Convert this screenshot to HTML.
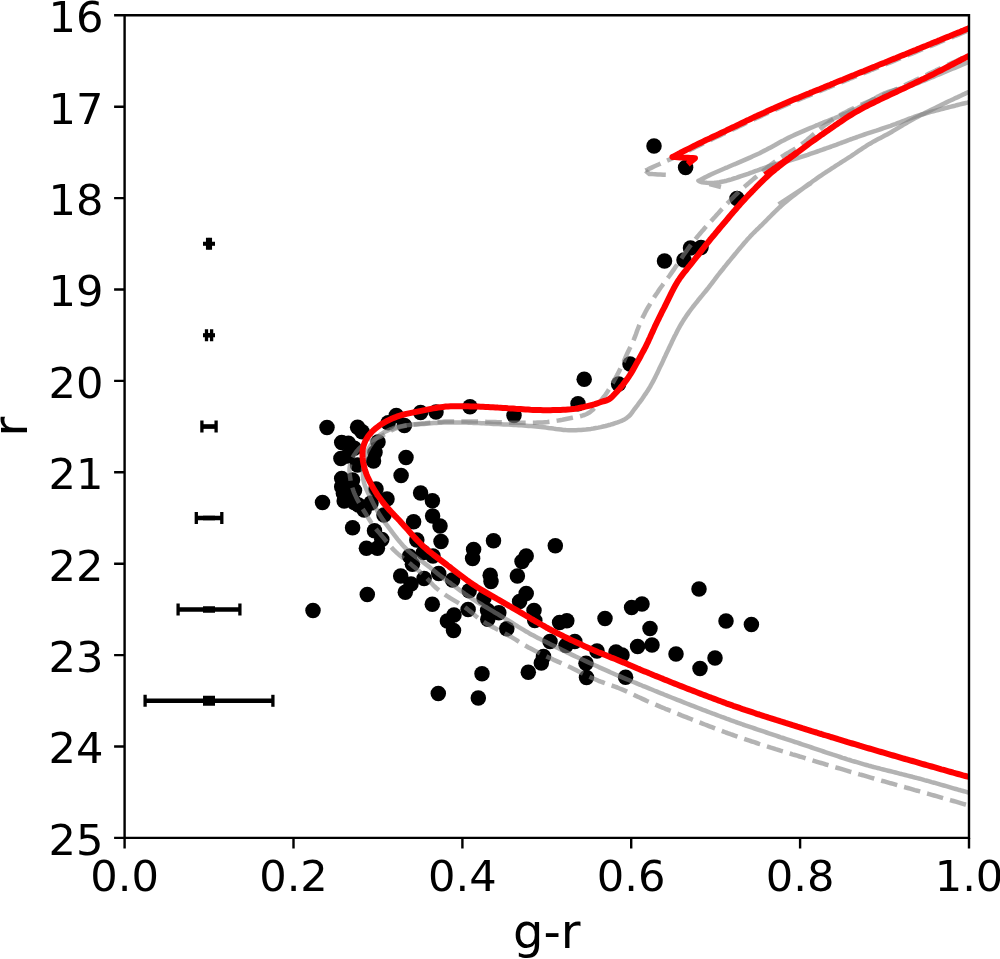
<!DOCTYPE html>
<html><head><meta charset="utf-8"><title>CMD</title>
<style>html,body{margin:0;padding:0;background:#fff;width:1000px;height:959px;overflow:hidden}svg{display:block}</style>
</head><body>
<svg width="1000" height="959" viewBox="0 0 1000 959">
<rect width="1000" height="959" fill="#fff"/>
<defs><clipPath id="ax"><rect x="124.6" y="15.3" width="844.4" height="822.6"/></clipPath></defs>
<g clip-path="url(#ax)">
<path d="M207.6 243.8H210.4" stroke="#000" stroke-width="4.5"/>
<path d="M209 243.5V244.1" stroke="#000" stroke-width="4.5"/>
<path d="M207.6 237.8v12" stroke="#000" stroke-width="3.3"/>
<path d="M210.4 237.8v12" stroke="#000" stroke-width="3.3"/>
<path d="M203 243.5h12" stroke="#000" stroke-width="3.3"/>
<path d="M203 244.1h12" stroke="#000" stroke-width="3.3"/>
<path d="M206.5 335.2H211.6" stroke="#000" stroke-width="4.5"/>
<path d="M209 334.9V335.5" stroke="#000" stroke-width="4.5"/>
<path d="M206.5 329.2v12" stroke="#000" stroke-width="3.3"/>
<path d="M211.6 329.2v12" stroke="#000" stroke-width="3.3"/>
<path d="M203 334.9h12" stroke="#000" stroke-width="3.3"/>
<path d="M203 335.5h12" stroke="#000" stroke-width="3.3"/>
<path d="M201.9 426.6H216.1" stroke="#000" stroke-width="4.5"/>
<path d="M209 426.3V426.9" stroke="#000" stroke-width="4.5"/>
<path d="M201.9 420.6v12" stroke="#000" stroke-width="3.3"/>
<path d="M216.1 420.6v12" stroke="#000" stroke-width="3.3"/>
<path d="M203 426.3h12" stroke="#000" stroke-width="3.3"/>
<path d="M203 426.9h12" stroke="#000" stroke-width="3.3"/>
<path d="M196.3 518H221.8" stroke="#000" stroke-width="4.5"/>
<path d="M209 517.5V518.5" stroke="#000" stroke-width="4.5"/>
<path d="M196.3 512v12" stroke="#000" stroke-width="3.3"/>
<path d="M221.8 512v12" stroke="#000" stroke-width="3.3"/>
<path d="M203 517.5h12" stroke="#000" stroke-width="3.3"/>
<path d="M203 518.5h12" stroke="#000" stroke-width="3.3"/>
<path d="M178.1 609.4H239.9" stroke="#000" stroke-width="4.5"/>
<path d="M209 607.8V611" stroke="#000" stroke-width="4.5"/>
<path d="M178.1 603.4v12" stroke="#000" stroke-width="3.3"/>
<path d="M239.9 603.4v12" stroke="#000" stroke-width="3.3"/>
<path d="M203 607.8h12" stroke="#000" stroke-width="3.3"/>
<path d="M203 611h12" stroke="#000" stroke-width="3.3"/>
<path d="M145.1 700.8H272.9" stroke="#000" stroke-width="4.5"/>
<path d="M209 697.4V704.2" stroke="#000" stroke-width="4.5"/>
<path d="M145.1 694.8v12" stroke="#000" stroke-width="3.3"/>
<path d="M272.9 694.8v12" stroke="#000" stroke-width="3.3"/>
<path d="M203 697.4h12" stroke="#000" stroke-width="3.3"/>
<path d="M203 704.2h12" stroke="#000" stroke-width="3.3"/>
<g fill="#000">
<circle cx="654" cy="146" r="7.75"/>
<circle cx="685.6" cy="167.5" r="7.75"/>
<circle cx="737" cy="198.4" r="7.75"/>
<circle cx="664.5" cy="261" r="7.75"/>
<circle cx="684" cy="260" r="7.75"/>
<circle cx="690.5" cy="248" r="7.75"/>
<circle cx="701" cy="247.5" r="7.75"/>
<circle cx="584.2" cy="379.2" r="7.75"/>
<circle cx="578" cy="403.8" r="7.75"/>
<circle cx="618.6" cy="384.1" r="7.75"/>
<circle cx="630" cy="364" r="7.75"/>
<circle cx="470" cy="406.8" r="7.75"/>
<circle cx="514" cy="415.6" r="7.75"/>
<circle cx="420.6" cy="412.6" r="7.75"/>
<circle cx="436" cy="412" r="7.75"/>
<circle cx="396.3" cy="415.5" r="7.75"/>
<circle cx="388.2" cy="422.7" r="7.75"/>
<circle cx="404.4" cy="425.4" r="7.75"/>
<circle cx="327" cy="427.5" r="7.75"/>
<circle cx="357.6" cy="427.2" r="7.75"/>
<circle cx="362.1" cy="431.7" r="7.75"/>
<circle cx="341.7" cy="442.5" r="7.75"/>
<circle cx="348.4" cy="443.3" r="7.75"/>
<circle cx="354.2" cy="448.3" r="7.75"/>
<circle cx="340.9" cy="458.4" r="7.75"/>
<circle cx="347.5" cy="455.9" r="7.75"/>
<circle cx="357.5" cy="465" r="7.75"/>
<circle cx="375" cy="452.5" r="7.75"/>
<circle cx="373.5" cy="461" r="7.75"/>
<circle cx="378" cy="442" r="7.75"/>
<circle cx="354.5" cy="490.5" r="7.75"/>
<circle cx="371" cy="503" r="7.75"/>
<circle cx="406" cy="457.6" r="7.75"/>
<circle cx="401.1" cy="475.4" r="7.75"/>
<circle cx="341.7" cy="478.4" r="7.75"/>
<circle cx="352.5" cy="480" r="7.75"/>
<circle cx="341.7" cy="486.7" r="7.75"/>
<circle cx="343.4" cy="493.4" r="7.75"/>
<circle cx="344.2" cy="500.9" r="7.75"/>
<circle cx="354.2" cy="502.6" r="7.75"/>
<circle cx="358.4" cy="505.1" r="7.75"/>
<circle cx="322.5" cy="502.5" r="7.75"/>
<circle cx="376" cy="489" r="7.75"/>
<circle cx="387" cy="499" r="7.75"/>
<circle cx="384" cy="515" r="7.75"/>
<circle cx="364.2" cy="510" r="7.75"/>
<circle cx="420.6" cy="493.1" r="7.75"/>
<circle cx="432.4" cy="500.7" r="7.75"/>
<circle cx="432.6" cy="516" r="7.75"/>
<circle cx="440" cy="526" r="7.75"/>
<circle cx="413.6" cy="521.8" r="7.75"/>
<circle cx="352.6" cy="527.7" r="7.75"/>
<circle cx="374.5" cy="530.7" r="7.75"/>
<circle cx="381.8" cy="539.4" r="7.75"/>
<circle cx="366.4" cy="548.2" r="7.75"/>
<circle cx="377.4" cy="548.2" r="7.75"/>
<circle cx="416.8" cy="540.1" r="7.75"/>
<circle cx="441" cy="541.4" r="7.75"/>
<circle cx="409.5" cy="556.2" r="7.75"/>
<circle cx="412.4" cy="564.2" r="7.75"/>
<circle cx="423.5" cy="552.5" r="7.75"/>
<circle cx="433" cy="556" r="7.75"/>
<circle cx="424.1" cy="578.5" r="7.75"/>
<circle cx="438.7" cy="573.5" r="7.75"/>
<circle cx="400.7" cy="575.9" r="7.75"/>
<circle cx="411" cy="583.9" r="7.75"/>
<circle cx="405.3" cy="592.3" r="7.75"/>
<circle cx="367.3" cy="594.5" r="7.75"/>
<circle cx="313" cy="610.4" r="7.75"/>
<circle cx="432.3" cy="604.2" r="7.75"/>
<circle cx="493.5" cy="540.8" r="7.75"/>
<circle cx="473.6" cy="549.6" r="7.75"/>
<circle cx="472.6" cy="558.4" r="7.75"/>
<circle cx="526.2" cy="556" r="7.75"/>
<circle cx="522" cy="561.6" r="7.75"/>
<circle cx="555.3" cy="545.7" r="7.75"/>
<circle cx="517.4" cy="576" r="7.75"/>
<circle cx="490.2" cy="575.2" r="7.75"/>
<circle cx="491" cy="581.6" r="7.75"/>
<circle cx="452.6" cy="580" r="7.75"/>
<circle cx="469.2" cy="590.8" r="7.75"/>
<circle cx="526.2" cy="593.6" r="7.75"/>
<circle cx="454" cy="615" r="7.75"/>
<circle cx="447.4" cy="621" r="7.75"/>
<circle cx="453.5" cy="630.6" r="7.75"/>
<circle cx="468.1" cy="609.5" r="7.75"/>
<circle cx="487.8" cy="619.3" r="7.75"/>
<circle cx="487.6" cy="610.4" r="7.75"/>
<circle cx="498.8" cy="612.8" r="7.75"/>
<circle cx="506.8" cy="628.8" r="7.75"/>
<circle cx="519.6" cy="601.6" r="7.75"/>
<circle cx="534" cy="610.4" r="7.75"/>
<circle cx="534.8" cy="620.4" r="7.75"/>
<circle cx="559.6" cy="622.4" r="7.75"/>
<circle cx="566.8" cy="620.8" r="7.75"/>
<circle cx="550" cy="641.6" r="7.75"/>
<circle cx="566" cy="645.6" r="7.75"/>
<circle cx="574.8" cy="641.6" r="7.75"/>
<circle cx="543.5" cy="656.5" r="7.75"/>
<circle cx="541.3" cy="663" r="7.75"/>
<circle cx="528.3" cy="672.2" r="7.75"/>
<circle cx="586" cy="663.2" r="7.75"/>
<circle cx="586.5" cy="677.6" r="7.75"/>
<circle cx="482" cy="673.8" r="7.75"/>
<circle cx="438.3" cy="693.6" r="7.75"/>
<circle cx="478.3" cy="698.1" r="7.75"/>
<circle cx="484" cy="598" r="7.75"/>
<circle cx="699" cy="589" r="7.75"/>
<circle cx="642" cy="604" r="7.75"/>
<circle cx="631.6" cy="607.6" r="7.75"/>
<circle cx="605" cy="618.6" r="7.75"/>
<circle cx="726" cy="621" r="7.75"/>
<circle cx="751.4" cy="624.4" r="7.75"/>
<circle cx="650" cy="628.6" r="7.75"/>
<circle cx="637.6" cy="646.4" r="7.75"/>
<circle cx="652" cy="645" r="7.75"/>
<circle cx="676" cy="654" r="7.75"/>
<circle cx="715" cy="658" r="7.75"/>
<circle cx="700" cy="668.4" r="7.75"/>
<circle cx="597" cy="651" r="7.75"/>
<circle cx="616" cy="652" r="7.75"/>
<circle cx="622" cy="655" r="7.75"/>
<circle cx="625.6" cy="677.2" r="7.75"/>
</g>
<path d="M975 794.5 972.6 793.8 970.2 793.1 967.8 792.4 965.4 791.7 963 791 960.6 790.3 958.2 789.7 955.8 789 953.4 788.3 951 787.6 948.6 786.9 946.2 786.2 943.8 785.5 941.4 784.8 939 784.1 936.5 783.4 934.1 782.7 931.7 782.1 929.3 781.4 926.9 780.7 924.5 780.1 922.1 779.4 919.7 778.7 917.3 778.1 914.8 777.5 912.4 776.8 910 776.2 907.6 775.6 905.2 775 902.7 774.4 900.3 773.8 897.9 773.1 895.5 772.5 893 771.9 890.6 771.3 888.2 770.7 885.8 770.1 883.3 769.5 880.9 768.9 878.5 768.2 876.1 767.6 873.6 767 871.2 766.3 868.8 765.7 866.4 765 864 764.3 861.6 763.6 859.2 762.9 856.8 762.2 854.4 761.5 852 760.8 849.6 760 847.2 759.3 844.9 758.5 842.5 757.8 840.1 757 837.7 756.2 835.3 755.4 833 754.7 830.6 753.9 828.2 753.1 825.8 752.3 823.5 751.5 821.1 750.7 818.7 749.9 816.4 749.1 814 748.3 811.6 747.5 809.3 746.7 806.9 745.9 804.5 745.1 802.1 744.3 799.8 743.5 797.4 742.7 795 742 792.6 741.2 790.3 740.4 787.9 739.6 785.5 738.8 783.1 738 780.8 737.3 778.4 736.5 776 735.7 773.6 734.9 771.3 734.1 768.9 733.3 766.5 732.5 764.2 731.7 761.8 730.9 759.4 730.1 757 729.3 754.7 728.5 752.3 727.7 749.9 726.9 747.6 726.1 745.2 725.3 742.8 724.5 740.5 723.6 738.1 722.8 735.8 722 733.4 721.1 731.1 720.3 728.7 719.4 726.4 718.6 724 717.7 721.7 716.9 719.3 716 717 715.1 714.6 714.2 712.3 713.4 710 712.5 707.6 711.6 705.3 710.7 702.9 709.8 700.6 708.9 698.3 708 695.9 707.1 693.6 706.2 691.3 705.3 688.9 704.4 686.6 703.5 684.3 702.6 682 701.7 679.6 700.7 677.3 699.8 675 698.9 672.7 698 670.3 697 668 696.1 665.7 695.2 663.4 694.2 661.1 693.3 658.7 692.4 656.4 691.4 654.1 690.5 651.8 689.5 649.5 688.6 647.2 687.7 644.8 686.7 642.5 685.8 640.2 684.8 637.9 683.9 635.6 682.9 633.3 682 631 681 628.7 680 626.4 679.1 624 678.1 621.7 677.1 619.4 676.1 617.1 675.2 614.9 674.2 612.6 673.2 610.3 672.2 608 671.1 605.7 670.1 603.4 669.1 601.1 668.1 598.8 667.1 596.6 666 594.3 665 592 664 589.7 663 587.4 661.9 585.2 660.9 582.9 659.8 580.6 658.8 578.4 657.8 576.1 656.7 573.8 655.6 571.6 654.6 569.3 653.5 567.1 652.4 564.8 651.3 562.6 650.2 560.3 649.1 558.1 648 555.8 646.9 553.6 645.8 551.3 644.7 549.1 643.6 546.9 642.4 544.6 641.3 542.4 640.2 540.2 639.1 537.9 637.9 535.7 636.8 533.5 635.6 531.3 634.4 529.1 633.2 527 631.9 524.8 630.7 522.7 629.4 520.5 628.1 518.4 626.8 516.3 625.5 514.2 624.1 512 622.8 509.9 621.5 507.8 620.2 505.6 618.9 503.5 617.6 501.4 616.3 499.2 615 497.1 613.7 494.9 612.5 492.8 611.2 490.6 609.9 488.5 608.6 486.3 607.3 484.2 606.1 482 604.8 479.9 603.5 477.7 602.2 475.6 600.9 473.5 599.6 471.4 598.2 469.3 596.8 467.2 595.4 465.2 594 463.2 592.5 461.1 591.1 459.1 589.6 457.1 588.1 455.1 586.6 453.1 585.2 451.1 583.7 449 582.2 447 580.7 445 579.3 443 577.8 441 576.2 439 574.7 437.1 573.2 435.1 571.6 433.2 570 431.2 568.5 429.3 566.9 427.3 565.4 425.3 563.9 423.3 562.4 421.2 561 419.2 559.5 417.2 558 415.2 556.6 413.2 555 411.3 553.5 409.4 551.9 407.5 550.2 405.7 548.4 404 546.7 402.3 544.8 400.7 542.9 399.1 541 397.5 539.1 396 537.1 394.4 535.1 392.9 533.2 391.4 531.2 389.9 529.2 388.4 527.2 386.9 525.2 385.4 523.2 383.9 521.1 382.5 519.1 381.1 517 379.8 514.9 378.4 512.8 377.2 510.7 375.9 508.5 374.8 506.3 373.6 504 372.5 501.8 371.4 499.5 370.3 497.3 369.2 495.1 368.1 492.9 367 490.6 366 488.3 365.1 486 364.3 483.6 363.7 481.2 363.2 478.7 363 476.3 362.9 473.8 362.9 471.3 363.1 468.8 363.3 466.3 363.7 463.8 364.1 461.4 364.7 458.9 365.3 456.5 366.1 454.1 367.1 451.8 368.2 449.6 369.4 447.4 370.7 445.3 372.1 443.2 373.6 441.2 375.2 439.3 376.9 437.5 378.8 435.9 380.8 434.4 382.9 433 385 431.8 387.3 430.7 389.6 429.7 391.9 428.8 394.2 427.9 396.6 427.2 399 426.6 401.5 426.1 403.9 425.7 406.4 425.3 408.9 425.1 411.3 424.8 413.8 424.6 416.3 424.4 418.8 424.2 421.3 424.1 423.8 423.9 426.3 423.7 428.8 423.5 431.3 423.3 433.8 423.1 436.3 423 438.8 422.8 441.3 422.7 443.8 422.6 446.3 422.5 448.8 422.5 451.3 422.4 453.8 422.4 456.3 422.4 458.8 422.5 461.3 422.5 463.8 422.5 466.3 422.6 468.8 422.7 471.3 422.8 473.8 422.9 476.3 423 478.8 423.1 481.3 423.2 483.8 423.3 486.3 423.5 488.8 423.6 491.2 423.7 493.7 423.9 496.2 424 498.7 424.1 501.2 424.2 503.7 424.4 506.2 424.5 508.7 424.6 511.2 424.8 513.7 424.9 516.2 425 518.7 425.2 521.2 425.3 523.7 425.5 526.2 425.7 528.7 425.9 531.2 426.1 533.7 426.3 536.2 426.5 538.7 426.8 541.1 427 543.6 427.3 546.1 427.6 548.6 428 551.1 428.3 553.5 428.6 556 429 558.5 429.3 561 429.6 563.5 429.9 566 430.1 568.5 430.2 571 430.3 573.5 430.3 576 430.2 578.5 430.1 580.9 430 583.4 429.7 585.9 429.5 588.4 429.2 590.9 428.9 593.4 428.5 595.8 428 598.3 427.6 600.7 427.1 603.2 426.5 605.6 426 608 425.3 610.4 424.7 612.8 424 615.2 423.2 617.6 422.4 619.9 421.5 622.2 420.6 624.5 419.4 626.6 418.1 628.5 416.6 630.3 414.8 631.8 412.9 633.3 410.8 634.7 408.8 636.2 406.8 637.8 404.8 639.2 402.8 640.7 400.8 642.2 398.8 643.6 396.7 645 394.6 646.4 392.6 647.8 390.5 649.1 388.3 650.4 386.2 651.6 384 652.8 381.8 654 379.6 655.1 377.4 656.2 375.1 657.3 372.9 658.4 370.6 659.4 368.4 660.5 366.1 661.6 363.9 662.7 361.6 663.7 359.3 664.8 357.1 665.8 354.8 666.9 352.5 668 350.3 669 348 670.1 345.7 671.2 343.5 672.2 341.2 673.3 339 674.4 336.7 675.6 334.5 676.7 332.3 677.8 330 679 327.8 680.2 325.7 681.5 323.5 682.8 321.4 684.1 319.3 685.5 317.2 686.9 315.1 688.3 313.1 689.8 311 691.3 309 692.8 307 694.3 305.1 695.9 303.1 697.5 301.2 699 299.2 700.6 297.3 702.2 295.4 703.8 293.4 705.4 291.5 707 289.5 708.5 287.6 710 285.6 711.6 283.6 713.1 281.6 714.6 279.7 716.1 277.7 717.6 275.7 719.2 273.7 720.7 271.7 722.3 269.8 723.8 267.8 725.4 265.9 727 263.9 728.5 262 730.1 260.1 731.7 258.1 733.3 256.2 734.9 254.3 736.5 252.4 738.1 250.4 739.7 248.5 741.3 246.6 742.9 244.7 744.5 242.8 746.2 240.9 747.8 239 749.5 237.2 751.2 235.3 753 233.5 754.7 231.8 756.5 230 758.3 228.3 760.1 226.5 761.9 224.8 763.7 223 765.4 221.3 767.2 219.5 769 217.7 770.7 216 772.5 214.2 774.3 212.4 776.1 210.7 777.9 208.9 779.7 207.2 781.5 205.6 783.4 203.9 785.3 202.3 787.2 200.7 789.2 199.1 791.1 197.5 793.1 196 795.1 194.4 797 192.9 799 191.4 801 189.9 803 188.4 805 186.9 807 185.4 809 183.9 811.1 182.5 813.1 181 815.2 179.6 817.2 178.2 819.3 176.7 821.3 175.3 823.4 173.9 825.5 172.5 827.6 171.2 829.7 169.8 831.8 168.4 833.9 167.1 836 165.7 838.1 164.4 840.2 163 842.3 161.7 844.4 160.4 846.5 159 848.6 157.6 850.7 156.3 852.8 154.9 854.9 153.5 856.9 152.1 859 150.7 861.1 149.3 863.2 147.9 865.3 146.6 867.4 145.2 869.5 143.9 871.7 142.7 873.8 141.4 876 140.2 878.2 139.1 880.5 137.9 882.7 136.8 884.9 135.6 887.1 134.4 889.3 133.2 891.5 132 893.6 130.7 895.8 129.4 897.9 128.1 900 126.8 902.2 125.5 904.3 124.2 906.5 123 908.6 121.7 910.8 120.5 913 119.3 915.2 118.1 917.4 116.9 919.6 115.8 921.8 114.6 924.1 113.5 926.3 112.3 928.5 111.2 930.8 110.1 933 109 935.2 107.9 937.5 106.8 939.7 105.7 942 104.6 944.2 103.5 946.5 102.4 948.7 101.3 951 100.3 953.3 99.2 955.5 98.1 957.8 97.1 960.1 96 962.3 94.9 964.6 93.9 966.9 92.8 969.1 91.8 971.4 90.7 973.6 89.6 975 89 M780.5 203.2 L809.5 184.2" fill="none" stroke="#808080" stroke-opacity="0.6" stroke-width="4.5" stroke-linejoin="round" stroke-linecap="square"/>
<path d="M975 59.5 972.7 60.4 970.3 61.3 968 62.2 965.7 63.2 963.4 64.2 961.1 65.1 958.8 66.1 956.5 67.1 954.1 68.1 951.8 69 949.5 70 947.2 71 944.9 72 942.6 72.9 940.3 73.9 938 74.8 935.7 75.8 933.3 76.8 931 77.7 928.7 78.7 926.4 79.6 924.1 80.6 921.8 81.5 919.4 82.4 917.1 83.4 914.7 84.2 912.4 85.1 910 85.9 907.6 86.7 905.2 87.4 902.8 88 900.4 88.6 898 89.2 895.5 89.8 893.1 90.4 890.7 91.1 888.3 91.9 886 92.8 883.7 93.7 881.4 94.8 879.2 95.9 877 97.1 874.8 98.4 872.6 99.6 870.5 100.9 868.3 102.2 866.2 103.5 864 104.7 861.8 106 859.6 107.1 857.4 108.3 855.1 109.4 852.9 110.4 850.6 111.4 848.3 112.5 846 113.5 843.7 114.4 841.4 115.4 839.1 116.4 836.7 117.3 834.4 118.3 832.1 119.2 829.8 120.1 827.4 121 825.1 121.9 822.8 122.9 820.4 123.8 818.1 124.8 815.8 125.7 813.5 126.7 811.2 127.7 808.9 128.6 806.6 129.6 804.3 130.6 802 131.6 799.7 132.6 797.4 133.6 795.1 134.6 792.8 135.7 790.6 136.8 788.3 137.9 786.1 139 783.9 140.2 781.6 141.3 779.4 142.5 777.3 143.7 775.1 145 772.9 146.2 770.7 147.4 768.5 148.6 766.3 149.8 764 150.9 761.8 152 759.6 153.2 757.3 154.2 755 155.3 752.8 156.3 750.5 157.4 748.2 158.4 745.9 159.4 743.6 160.4 741.3 161.4 739 162.4 736.7 163.4 734.4 164.3 732.1 165.3 729.8 166.3 727.5 167.3 725.1 168.2 722.8 169.2 720.5 170.2 718.2 171.2 715.9 172.2 713.6 173.2 711.4 174.3 709.1 175.4 706.9 176.5 704.6 177.6 702.4 178.7 700.2 179.9 698.4 180.8 700.2 181.6 702.2 182.3 704.4 182.6 706.9 182.8 709.3 182.9 711.8 182.9 714.3 182.8 716.8 182.6 719.3 182.3 721.8 181.8 724.2 181.3 726.7 180.7 729.1 180 731.5 179.3 733.9 178.5 736.2 177.8 738.6 177 741 176.2 743.4 175.4 745.7 174.6 748.1 173.8 750.5 172.9 752.8 172.1 755.2 171.2 757.6 170.4 759.9 169.5 762.3 168.7 764.6 167.8 767 167 769.4 166.2 771.7 165.4 774.1 164.6 776.5 164 779 163.3 781.4 162.7 783.8 162.1 786.2 161.5 788.7 160.8 791.1 160.1 793.5 159.4 795.9 158.7 798.3 157.9 800.6 157.2 803 156.4 805.4 155.6 807.8 154.8 810.1 153.9 812.5 153.1 814.9 152.3 817.3 151.5 819.6 150.7 822 149.8 824.3 149 826.7 148.2 829.1 147.3 831.4 146.5 833.8 145.6 836.1 144.8 838.5 143.9 840.9 143 843.2 142.2 845.5 141.3 847.9 140.4 850.2 139.5 852.6 138.7 855 137.8 857.3 137 859.7 136.1 862 135.3 864.4 134.5 866.8 133.7 869.2 132.9 871.6 132.1 873.9 131.3 876.3 130.6 878.7 129.8 881.1 129 883.5 128.2 885.8 127.4 888.2 126.6 890.6 125.8 892.9 124.9 895.3 124.1 897.6 123.2 900 122.3 902.3 121.4 904.6 120.5 907 119.6 909.3 118.7 911.7 117.9 914.1 117 916.4 116.2 918.8 115.4 921.2 114.7 923.6 114 926 113.3 928.4 112.6 930.8 111.9 933.3 111.3 935.7 110.6 938.1 110 940.5 109.3 943 108.7 945.4 108.1 947.8 107.5 950.2 106.9 952.7 106.3 955.1 105.7 957.5 105 960 104.4 962.4 103.8 964.8 103.2 967.3 102.6 969.7 101.9 972.1 101.3 974.5 100.6 975 100.5 M711.6 184.6 L718.8 186.4" fill="none" stroke="#808080" stroke-opacity="0.6" stroke-width="4.5" stroke-linejoin="round" stroke-linecap="square"/>
<path d="M975 807.2 972.6 806.5 970.2 805.8 967.8 805.1 965.4 804.5 963 803.8 960.6 803.1 958.2 802.4 955.8 801.7 953.4 801 951 800.3 948.5 799.6 946.1 799 943.7 798.3 941.3 797.6 938.9 796.9 936.5 796.2 934.1 795.5 931.7 794.8 929.3 794.1 926.9 793.5 924.5 792.8 922.1 792.1 919.7 791.4 917.3 790.7 914.9 790.1 912.5 789.4 910.1 788.7 907.6 788 905.2 787.3 902.8 786.7 900.4 786 898 785.3 895.6 784.6 893.2 783.9 890.8 783.3 888.4 782.6 886 781.9 883.6 781.2 881.2 780.6 878.8 779.9 876.3 779.2 873.9 778.5 871.5 777.8 869.1 777.1 866.7 776.4 864.3 775.7 861.9 775 859.5 774.4 857.1 773.7 854.7 773 852.3 772.3 849.9 771.6 847.5 770.8 845.1 770.1 842.7 769.4 840.3 768.7 837.9 768 835.5 767.3 833.1 766.6 830.7 765.9 828.3 765.2 825.9 764.5 823.5 763.7 821.1 763 818.7 762.3 816.3 761.6 814 760.9 811.6 760.1 809.2 759.4 806.8 758.7 804.4 757.9 802 757.2 799.6 756.5 797.2 755.7 794.8 755 792.4 754.3 790 753.5 787.7 752.8 785.3 752 782.9 751.3 780.5 750.6 778.1 749.8 775.7 749.1 773.3 748.3 770.9 747.6 768.5 746.8 766.2 746.1 763.8 745.3 761.4 744.5 759 743.8 756.6 743 754.3 742.2 751.9 741.5 749.5 740.7 747.1 739.9 744.8 739.1 742.4 738.3 740 737.5 737.7 736.7 735.3 735.8 732.9 735 730.6 734.2 728.2 733.3 725.9 732.5 723.5 731.6 721.2 730.7 718.8 729.9 716.5 729 714.2 728.1 711.8 727.2 709.5 726.3 707.2 725.4 704.8 724.5 702.5 723.6 700.2 722.7 697.8 721.8 695.5 720.9 693.2 720 690.9 719 688.5 718.1 686.2 717.2 683.9 716.3 681.5 715.4 679.2 714.4 676.9 713.5 674.6 712.6 672.3 711.6 670 710.7 667.6 709.7 665.3 708.8 663 707.8 660.7 706.9 658.4 705.9 656.1 704.9 653.8 703.9 651.5 703 649.2 702 646.9 701 644.6 699.9 642.4 698.9 640.1 697.8 637.8 696.8 635.6 695.7 633.3 694.6 631 693.5 628.8 692.5 626.5 691.4 624.2 690.4 621.9 689.4 619.6 688.5 617.3 687.5 615 686.7 612.6 685.8 610.3 685 607.9 684.2 605.5 683.4 603.2 682.5 600.8 681.7 598.5 680.8 596.2 679.8 593.9 678.8 591.6 677.8 589.4 676.8 587.1 675.7 584.9 674.5 582.6 673.4 580.4 672.3 578.2 671.2 575.9 670 573.7 668.9 571.4 667.8 569.2 666.8 566.9 665.7 564.6 664.7 562.4 663.7 560.1 662.6 557.8 661.6 555.5 660.6 553.2 659.6 551 658.5 548.7 657.5 546.4 656.4 544.2 655.3 541.9 654.2 539.7 653.2 537.4 652 535.2 650.9 533 649.8 530.7 648.6 528.5 647.5 526.4 646.2 524.2 645 522.1 643.7 519.9 642.4 517.8 641 515.7 639.7 513.6 638.4 511.5 637.1 509.3 635.9 507.1 634.7 504.9 633.5 502.7 632.3 500.5 631.1 498.3 630 496.1 628.8 493.9 627.6 491.6 626.5 489.5 625.3 487.3 624.1 485.1 622.8 483 621.5 481 620.1 478.9 618.6 477 617.1 475.1 615.5 473.2 613.9 471.3 612.3 469.3 610.7 467.4 609.1 465.4 607.6 463.4 606.2 461.3 604.8 459.2 603.5 457.1 602.2 454.9 600.9 452.8 599.6 450.7 598.3 448.5 597 446.4 595.6 444.4 594.2 442.3 592.8 440.3 591.3 438.4 589.8 436.5 588.2 434.6 586.5 432.9 584.8 431.2 583 429.6 581.2 427.9 579.4 426.3 577.6 424.5 575.9 422.7 574.2 420.8 572.6 419 571 417 569.4 415.1 567.8 413.2 566.2 411.3 564.6 409.3 563 407.4 561.5 405.4 559.9 403.4 558.4 401.5 556.8 399.6 555.2 397.7 553.6 395.8 551.9 394 550.2 392.3 548.4 390.7 546.5 389.1 544.6 387.5 542.7 385.9 540.8 384.3 538.8 382.7 536.9 381.1 535 379.5 533.1 377.8 531.2 376.2 529.3 374.7 527.4 373.2 525.4 371.8 523.4 370.4 521.3 369.1 519.2 367.7 517.1 366.4 514.9 365.1 512.8 363.8 510.7 362.4 508.6 361.1 506.4 359.9 504.3 358.7 502.1 357.5 499.9 356.4 497.7 355.3 495.4 354.3 493.1 353.4 490.8 352.6 488.4 351.9 486 351.2 483.6 350.7 481.2 350.3 478.7 349.9 476.2 349.6 473.7 349.5 471.3 349.5 468.8 349.8 466.3 350.3 463.9 351 461.5 351.9 459.1 353 456.9 354.3 454.7 355.7 452.7 357.2 450.7 358.9 448.9 360.7 447.1 362.6 445.5 364.6 444 366.7 442.7 368.9 441.6 371.2 440.6 373.5 439.6 375.8 438.7 378.1 437.7 380.4 436.7 382.6 435.5 384.8 434.3 386.9 433 389.1 431.7 391.3 430.5 393.5 429.4 395.8 428.5 398.1 427.6 400.5 426.9 402.9 426.3 405.3 425.8 407.8 425.3 410.3 424.9 412.7 424.6 415.2 424.3 417.7 424 420.2 423.7 422.7 423.4 425.2 423.2 427.6 422.9 430.1 422.7 432.6 422.5 435.1 422.2 437.6 422.1 440.1 421.9 442.6 421.8 445.1 421.6 447.6 421.6 450.1 421.5 452.6 421.4 455.1 421.4 457.6 421.4 460.1 421.4 462.6 421.4 465.1 421.4 467.6 421.4 470.1 421.5 472.6 421.5 475.1 421.5 477.6 421.6 480.1 421.7 482.6 421.7 485.1 421.8 487.6 421.9 490.1 422 492.6 422 495.1 422.1 497.6 422.2 500.1 422.3 502.6 422.4 505.1 422.5 507.6 422.6 510.1 422.7 512.6 422.7 515.1 422.8 517.6 422.8 520.1 422.8 522.6 422.8 525.1 422.8 527.6 422.8 530.1 422.7 532.6 422.7 535.1 422.7 537.6 422.6 540.1 422.5 542.6 422.4 545.1 422.2 547.6 422 550.1 421.7 552.5 421.4 555 421 557.5 420.6 559.9 420.2 562.4 419.8 564.9 419.3 567.3 418.8 569.8 418.3 572.2 417.8 574.7 417.3 577.1 416.8 579.6 416.3 582 415.7 584.4 415 586.7 414 588.9 412.8 590.9 411.4 592.8 409.8 594.6 408 596.3 406.2 597.9 404.3 599.4 402.3 601 400.4 602.6 398.4 604.1 396.5 605.6 394.5 607 392.4 608.4 390.3 609.7 388.2 611 386 612.2 383.9 613.5 381.7 614.7 379.5 615.9 377.3 617.1 375.1 618.2 372.9 619.4 370.6 620.5 368.4 621.6 366.2 622.6 363.9 623.7 361.6 624.7 359.3 625.7 357 626.7 354.7 627.7 352.5 628.8 350.2 629.9 348 631 345.7 632.1 343.5 633.1 341.2 634.1 338.9 635 336.6 635.9 334.2 636.7 331.9 637.6 329.5 638.5 327.2 639.4 324.9 640.4 322.6 641.4 320.3 642.4 318 643.5 315.8 644.7 313.6 645.8 311.3 647 309.2 648.3 307 649.6 304.8 650.8 302.7 652.1 300.6 653.5 298.4 654.8 296.3 656.2 294.2 657.6 292.2 659 290.1 660.4 288 661.9 286 663.3 284 664.8 282 666.3 280 667.8 278 669.3 276 670.8 273.9 672.2 271.9 673.6 269.9 675 267.8 676.4 265.7 677.8 263.6 679.2 261.6 680.6 259.5 682 257.4 683.4 255.3 684.8 253.3 686.3 251.2 687.7 249.2 689.2 247.2 690.7 245.2 692.2 243.2 693.7 241.2 695.3 239.3 696.9 237.3 698.5 235.4 700.1 233.5 701.7 231.6 703.4 229.7 705 227.8 706.7 226 708.4 224.1 710.1 222.3 711.7 220.4 713.4 218.5 715.1 216.7 716.8 214.8 718.5 213 720.1 211.1 721.8 209.3 723.5 207.5 725.2 205.6 727 203.8 728.7 202 730.4 200.2 732.2 198.4 733.9 196.6 735.7 194.9 737.5 193.1 739.3 191.4 741.2 189.7 743 188.1 744.9 186.4 746.8 184.8 748.7 183.1 750.6 181.5 752.5 179.9 754.4 178.3 756.3 176.7 758.2 175.1 760.2 173.5 762.1 171.9 764 170.3 766 168.7 767.9 167.1 769.8 165.6 771.8 164 773.8 162.5 775.8 161 777.8 159.5 779.8 158.1 781.9 156.7 784 155.3 786.1 154 788.3 152.8 790.4 151.5 792.6 150.3 794.7 149 796.8 147.6 798.9 146.3 801 144.8 802.9 143.3 804.9 141.8 806.8 140.2 808.7 138.5 810.6 136.9 812.5 135.3 814.4 133.7 816.3 132.1 818.2 130.5 820.2 128.9 822.2 127.4 824.1 125.8 826.1 124.3 828.2 122.9 830.2 121.4 832.3 120 834.4 118.7 836.5 117.3 838.6 116.1 840.8 114.8 843 113.6 845.2 112.4 847.4 111.3 849.6 110.1 851.9 109 854.1 107.9 856.4 106.8 858.6 105.8 860.9 104.8 863.2 103.8 865.5 102.8 867.8 101.8 870.1 100.9 872.4 99.9 874.7 99 877 98 879.3 97 881.6 96 883.9 94.9 886.2 93.9 888.5 92.9 890.7 91.8 893 90.8 895.3 89.7 897.5 88.7 899.8 87.6 902.1 86.5 904.3 85.5 906.6 84.4 908.8 83.3 911.1 82.2 913.3 81.2 915.6 80.1 917.9 79 920.1 77.9 922.4 76.8 924.6 75.8 926.9 74.7 929.1 73.6 931.4 72.6 933.7 71.5 935.9 70.4 938.2 69.4 940.5 68.3 942.7 67.3 945 66.2 947.3 65.2 949.6 64.1 951.8 63.1 954.1 62 956.4 61 958.6 59.9 960.9 58.9 963.2 57.8 965.5 56.8 967.7 55.7 970 54.7 972.3 53.6 974.5 52.6 975 52.4" fill="none" stroke="#808080" stroke-opacity="0.6" stroke-width="4.5" stroke-linejoin="round" stroke-dasharray="16.65 7.2" stroke-dashoffset="14.5" stroke-linecap="butt"/>
<path d="M645.4 170.5 647.7 169.5 650 168.4 652.2 167.4 654.5 166.3 656.8 165.3 659.1 164.3 661.4 163.2 663.6 162.2 665.9 161.1 668.2 160.1 670.5 159.1 672.8 158.1 675.1 157 677.4 156 679.6 155 681.9 153.9 684.2 152.9 686.4 151.8 688.7 150.7 690.9 149.6 693.2 148.4 695.4 147.3 697.6 146.2 699.9 145.1 702.1 144 704.4 142.9 706.7 141.8 708.9 140.7 711.2 139.7 713.4 138.6 715.7 137.5 718 136.5 720.2 135.4 722.5 134.3 724.8 133.2 727 132.2 729.3 131.1 731.6 130 733.8 128.9 736.1 127.9 738.3 126.8 740.6 125.7 742.9 124.6 745.1 123.5 747.4 122.4 749.6 121.4 751.9 120.3 754.2 119.2 756.4 118.2 758.7 117.1 761 116.1 763.3 115 765.6 114 767.9 113 770.1 112 772.4 111 774.7 110 777 109 779.3 107.9 781.6 106.9 783.9 105.9 786.2 104.9 788.5 104 790.8 103 793.1 102 795.4 101 797.8 100.1 800.1 99.2 802.4 98.2 804.7 97.3 807 96.3 809.4 95.4 811.7 94.4 814 93.5 816.3 92.5 818.6 91.6 821 90.6 823.3 89.7 825.6 88.8 827.9 87.8 830.2 86.9 832.6 85.9 834.9 85 837.2 84 839.5 83.1 841.8 82.1 844.2 81.2 846.5 80.2 848.8 79.3 851.1 78.3 853.4 77.4 855.8 76.5 858.1 75.5 860.4 74.6 862.7 73.6 865 72.7 867.4 71.7 869.7 70.8 872 69.8 874.3 68.9 876.7 68 879 67 881.3 66.1 883.6 65.1 885.9 64.2 888.3 63.2 890.6 62.3 892.9 61.4 895.2 60.4 897.5 59.5 899.9 58.5 902.2 57.6 904.5 56.6 906.8 55.7 909.1 54.7 911.5 53.8 913.8 52.9 916.1 51.9 918.4 51 920.7 50 923.1 49.1 925.4 48.1 927.7 47.2 930 46.2 932.3 45.3 934.7 44.3 937 43.4 939.3 42.4 941.6 41.5 943.9 40.5 946.3 39.6 948.6 38.6 950.9 37.7 953.2 36.8 955.5 35.8 957.9 34.9 960.2 33.9 962.5 33 964.8 32 967.1 31.1 969.4 30.1 971.8 29.1 974.1 28.2 975 27.8" fill="none" stroke="#808080" stroke-opacity="0.6" stroke-width="4.5" stroke-linejoin="round" stroke-dasharray="16.65 7.2" stroke-dashoffset="0" stroke-linecap="butt"/>
<path d="M665.8 174.8 663.2 174.7 660.5 174.5 657.9 174.4 655.2 174.2 652.6 174.1 649.9 173.9 649.4 173.9 647 171.9 645.6 170.7" fill="none" stroke="#808080" stroke-opacity="0.6" stroke-width="4.5" stroke-linejoin="round" stroke-linecap="butt"/>
<path d="M975 778.6 972.6 778 970.2 777.3 967.8 776.7 965.3 776 962.9 775.4 960.5 774.7 958.1 774 955.7 773.3 953.3 772.7 950.9 772 948.5 771.3 946.1 770.6 943.7 769.9 941.3 769.3 938.9 768.6 936.5 767.9 934 767.2 931.6 766.5 929.2 765.8 926.8 765.2 924.4 764.5 922 763.8 919.6 763.1 917.2 762.4 914.8 761.7 912.4 761 910 760.3 907.6 759.6 905.2 759 902.8 758.3 900.4 757.6 898 756.9 895.6 756.2 893.2 755.5 890.8 754.8 888.4 754.1 886 753.4 883.6 752.7 881.2 752 878.8 751.3 876.4 750.6 874 749.9 871.6 749.2 869.2 748.5 866.8 747.8 864.4 747.1 862 746.4 859.6 745.7 857.2 744.9 854.8 744.2 852.4 743.5 850 742.8 847.6 742.1 845.2 741.3 842.8 740.6 840.4 739.9 838 739.2 835.6 738.4 833.2 737.7 830.8 737 828.4 736.2 826.1 735.5 823.7 734.8 821.3 734 818.9 733.3 816.5 732.5 814.1 731.8 811.7 731.1 809.3 730.3 806.9 729.6 804.5 728.8 802.2 728.1 799.8 727.3 797.4 726.6 795 725.8 792.6 725.1 790.2 724.3 787.8 723.6 785.5 722.9 783.1 722.1 780.7 721.4 778.3 720.6 775.9 719.9 773.5 719.1 771.1 718.3 768.7 717.6 766.4 716.8 764 716.1 761.6 715.3 759.2 714.5 756.8 713.8 754.5 713 752.1 712.2 749.7 711.4 747.3 710.6 745 709.9 742.6 709.1 740.2 708.2 737.9 707.4 735.5 706.6 733.1 705.8 730.8 704.9 728.4 704.1 726.1 703.3 723.7 702.4 721.4 701.5 719 700.7 716.7 699.8 714.3 698.9 712 698 709.7 697.2 707.3 696.3 705 695.4 702.6 694.5 700.3 693.6 698 692.7 695.6 691.8 693.3 690.9 691 690 688.6 689.1 686.3 688.2 684 687.3 681.7 686.4 679.3 685.4 677 684.5 674.7 683.6 672.4 682.7 670 681.7 667.7 680.8 665.4 679.9 663.1 678.9 660.8 678 658.4 677 656.1 676.1 653.8 675.2 651.5 674.2 649.2 673.3 646.9 672.3 644.5 671.4 642.2 670.4 639.9 669.4 637.6 668.5 635.3 667.5 633 666.5 630.7 665.5 628.4 664.6 626.1 663.6 623.8 662.6 621.5 661.7 619.2 660.7 616.9 659.7 614.6 658.8 612.2 657.9 609.9 656.9 607.6 656 605.3 655 603 654.1 600.7 653.1 598.4 652.2 596.1 651.2 593.8 650.2 591.5 649.2 589.2 648.2 586.9 647.2 584.6 646.2 582.3 645.1 580 644.1 577.8 643.1 575.5 642 573.2 640.9 571 639.9 568.7 638.8 566.5 637.7 564.2 636.6 562 635.5 559.7 634.4 557.5 633.3 555.3 632.1 553 631 550.8 629.8 548.6 628.7 546.4 627.5 544.2 626.2 542.1 625 539.9 623.8 537.7 622.5 535.6 621.3 533.4 620 531.2 618.8 529.1 617.5 526.9 616.2 524.8 615 522.6 613.7 520.4 612.4 518.3 611.2 516.1 609.9 513.9 608.7 511.8 607.4 509.6 606.2 507.5 604.9 505.3 603.7 503.1 602.4 501 601.2 498.8 599.9 496.6 598.7 494.4 597.4 492.3 596.2 490.1 594.9 488 593.7 485.8 592.4 483.7 591.1 481.5 589.8 479.4 588.5 477.3 587.2 475.2 585.8 473.1 584.4 471 583 469 581.6 466.9 580.2 464.9 578.7 462.9 577.2 460.9 575.7 458.9 574.2 456.9 572.7 454.9 571.1 453 569.6 451 568 449 566.5 447.1 565 445.1 563.5 443.1 562 441.1 560.5 439.1 559 437.1 557.5 435.1 556 433.1 554.5 431.1 552.9 429.1 551.4 427.2 549.8 425.3 548.1 423.5 546.5 421.6 544.8 419.9 543 418.1 541.2 416.4 539.4 414.7 537.6 413 535.7 411.4 533.9 409.7 532 408.1 530.1 406.4 528.2 404.7 526.4 403 524.5 401.4 522.7 399.7 520.8 398 519 396.2 517.2 394.5 515.4 392.8 513.5 391.1 511.7 389.4 509.9 387.7 508 386.1 506.1 384.5 504.2 382.9 502.3 381.4 500.3 379.9 498.3 378.4 496.3 377 494.2 375.7 492.1 374.4 490 373.1 487.8 371.9 485.6 370.7 483.4 369.6 481.2 368.5 478.9 367.5 476.7 366.5 474.3 365.7 472 364.9 469.6 364.3 467.2 363.7 464.8 363.2 462.3 362.8 459.8 362.6 457.4 362.5 454.9 362.5 452.4 362.7 449.9 363.1 447.4 363.8 445 364.6 442.7 365.6 440.4 366.9 438.2 368.2 436.2 369.8 434.2 371.4 432.3 373.2 430.5 375 428.9 377 427.3 379 425.8 381 424.4 383.2 423.1 385.4 421.9 387.6 420.7 389.8 419.6 392.1 418.5 394.4 417.6 396.7 416.7 399.1 415.9 401.4 415.2 403.9 414.5 406.3 413.9 408.7 413.4 411.2 412.9 413.6 412.4 416.1 411.9 418.5 411.4 421 410.9 423.4 410.4 425.9 409.9 428.3 409.4 430.8 408.9 433.2 408.4 435.7 408 438.1 407.5 440.6 407.2 443.1 406.9 445.6 406.6 448.1 406.4 450.6 406.3 453 406.2 455.5 406.2 458 406.2 460.5 406.2 463 406.2 465.5 406.3 468 406.3 470.5 406.4 473 406.4 475.5 406.5 478 406.6 480.5 406.7 483 406.8 485.5 406.9 488 407 490.5 407.2 493 407.3 495.5 407.4 498 407.6 500.5 407.7 503 407.9 505.5 408.1 508 408.3 510.5 408.4 513 408.6 515.5 408.8 518 408.9 520.5 409.1 523 409.3 525.5 409.5 528 409.6 530.5 409.8 533 409.9 535.5 410 538 410.1 540.5 410.1 543 410.2 545.5 410.2 548 410.2 550.5 410.2 553 410.1 555.5 410.1 558 410 560.5 409.9 563 409.8 565.5 409.7 568 409.5 570.5 409.3 572.9 409 575.4 408.7 577.9 408.3 580.3 407.8 582.8 407.3 585.2 406.7 587.6 406.1 590.1 405.5 592.5 404.8 594.9 404.1 597.2 403.3 599.6 402.5 602 401.7 604.4 401 606.8 400.3 609 399.2 611 397.8 612.8 396.1 614.5 394.2 616.2 392.4 617.9 390.6 619.6 388.7 621.2 386.8 622.8 384.9 624.3 382.9 625.8 380.9 627.3 378.9 628.7 376.8 630.1 374.7 631.4 372.6 632.7 370.4 633.9 368.3 635.1 366.1 636.3 363.9 637.5 361.7 638.8 359.5 640 357.3 641.1 355.1 642.3 352.9 643.5 350.7 644.7 348.5 645.8 346.3 646.9 344 648 341.8 649 339.5 650.1 337.2 651.1 334.9 652.1 332.7 653.2 330.4 654.2 328.1 655.2 325.8 656.3 323.6 657.4 321.3 658.5 319.1 659.6 316.8 660.7 314.6 661.8 312.3 662.9 310.1 664.1 307.9 665.2 305.6 666.3 303.4 667.4 301.2 668.5 298.9 669.6 296.7 670.7 294.4 671.8 292.2 673 289.9 674.1 287.7 675.3 285.5 676.5 283.4 677.8 281.2 679.2 279.2 680.6 277.1 682.1 275.1 683.6 273.2 685.2 271.2 686.8 269.3 688.3 267.3 689.9 265.4 691.5 263.4 693 261.5 694.6 259.5 696.1 257.5 697.7 255.6 699.2 253.6 700.7 251.6 702.2 249.6 703.8 247.6 705.3 245.7 706.9 243.7 708.4 241.8 710 239.8 711.6 237.9 713.2 236 714.8 234.1 716.4 232.1 718 230.2 719.6 228.3 721.2 226.4 722.8 224.5 724.5 222.6 726.1 220.6 727.7 218.7 729.3 216.8 730.9 214.9 732.5 213 734.2 211.1 735.8 209.2 737.4 207.3 739.1 205.4 740.7 203.6 742.4 201.7 744.1 199.9 745.8 198 747.5 196.2 749.2 194.4 751 192.6 752.7 190.8 754.5 189 756.2 187.2 758 185.4 759.7 183.7 761.5 181.9 763.3 180.1 765.1 178.4 766.9 176.7 768.7 175 770.6 173.3 772.5 171.7 774.4 170.1 776.3 168.5 778.3 167 780.3 165.4 782.2 163.9 784.2 162.4 786.2 160.9 788.2 159.3 790.2 157.8 792.2 156.3 794.2 154.8 796.2 153.3 798.2 151.8 800.2 150.3 802.2 148.8 804.2 147.3 806.2 145.8 808.2 144.3 810.2 142.9 812.3 141.4 814.3 140 816.4 138.5 818.4 137.1 820.4 135.6 822.5 134.2 824.5 132.8 826.6 131.3 828.7 129.9 830.7 128.5 832.8 127.1 834.8 125.6 836.9 124.2 838.9 122.8 841 121.4 843.1 120 845.1 118.6 847.2 117.2 849.3 115.9 851.5 114.6 853.6 113.3 855.8 112 857.9 110.8 860.1 109.6 862.3 108.4 864.5 107.2 866.8 106 869 104.9 871.2 103.8 873.5 102.7 875.7 101.6 878 100.5 880.2 99.4 882.5 98.3 884.7 97.3 887 96.2 889.3 95.1 891.5 94.1 893.8 93 896.1 92 898.3 90.9 900.6 89.8 902.9 88.8 905.1 87.7 907.4 86.6 909.6 85.6 911.9 84.5 914.2 83.4 916.4 82.3 918.7 81.2 920.9 80.1 923.2 79.1 925.4 78 927.7 76.9 929.9 75.8 932.2 74.7 934.4 73.6 936.6 72.4 938.9 71.3 941.1 70.2 943.3 69.1 945.6 67.9 947.8 66.8 950 65.6 952.2 64.5 954.4 63.3 956.7 62.1 958.9 61 961.1 59.8 963.3 58.7 965.5 57.6 967.8 56.4 970 55.4 972.3 54.3 974.5 53.2 975 53" fill="none" stroke="#f00" stroke-width="6" stroke-linejoin="round" stroke-linecap="square"/>
<path d="M975 25.7 972.7 26.7 970.4 27.6 968.1 28.6 965.7 29.5 963.4 30.5 961.1 31.4 958.8 32.4 956.5 33.3 954.1 34.3 951.8 35.2 949.5 36.2 947.2 37.1 944.8 38.1 942.5 39 940.2 40 937.9 40.9 935.6 41.9 933.2 42.8 930.9 43.8 928.6 44.7 926.3 45.7 924 46.6 921.6 47.6 919.3 48.5 917 49.4 914.7 50.4 912.4 51.3 910 52.3 907.7 53.2 905.4 54.2 903.1 55.1 900.7 56.1 898.4 57 896.1 58 893.8 58.9 891.5 59.8 889.1 60.8 886.8 61.7 884.5 62.7 882.2 63.6 879.8 64.6 877.5 65.5 875.2 66.5 872.9 67.4 870.6 68.3 868.2 69.3 865.9 70.2 863.6 71.2 861.3 72.1 858.9 73.1 856.6 74 854.3 75 852 75.9 849.7 76.8 847.3 77.8 845 78.7 842.7 79.7 840.4 80.6 838 81.6 835.7 82.5 833.4 83.5 831.1 84.4 828.8 85.4 826.4 86.3 824.1 87.3 821.8 88.2 819.5 89.2 817.2 90.1 814.8 91 812.5 92 810.2 92.9 807.9 93.9 805.6 94.8 803.2 95.8 800.9 96.7 798.6 97.7 796.3 98.6 793.9 99.6 791.6 100.5 789.3 101.5 787 102.5 784.7 103.5 782.4 104.5 780.1 105.5 777.8 106.5 775.5 107.5 773.3 108.6 771 109.6 768.7 110.6 766.4 111.6 764.1 112.7 761.8 113.7 759.5 114.7 757.3 115.8 755 116.8 752.7 117.9 750.5 119 748.2 120.1 745.9 121.1 743.7 122.2 741.4 123.3 739.2 124.4 736.9 125.5 734.6 126.6 732.4 127.6 730.1 128.7 727.8 129.8 725.6 130.9 723.3 131.9 721 133 718.8 134.1 716.5 135.2 714.2 136.2 712 137.3 709.7 138.4 707.4 139.4 705.2 140.5 702.9 141.6 700.7 142.7 698.4 143.8 696.2 144.9 693.9 146 691.7 147.1 689.4 148.3 687.2 149.4 685 150.5 682.7 151.7 680.5 152.8 678.3 154 676.1 155.1 673.8 156.3 672.5 157 675.1 157.1 677.6 157.3 680.2 157.4 682.7 157.5 685.3 157.7 687.8 157.8 690.4 158 693 158.1 695 158.2 692.9 160 690.8 161.7 688.6 163.5 687.8 164.2" fill="none" stroke="#f00" stroke-width="6" stroke-linejoin="round" stroke-linecap="butt"/>
<path d="M767.5 173.2 769.6 171.7 771.7 170.3 773.7 168.8 775.8 167.4 777.9 165.9 780 164.4 782 163 784.1 161.5 786.2 160 788.3 158.6 790.3 157.1 792.4 155.7 794.5 154.2" fill="none" stroke="#f00" stroke-width="6" stroke-linejoin="round" stroke-linecap="square"/>
</g>
<path d="M124.6 15.3V837.9H969V15.3Z" fill="none" stroke="#000" stroke-width="2.4" stroke-linejoin="miter" stroke-linecap="square"/>
<path d="M114.1 15.3H124.6 M114.1 106.7H124.6 M114.1 198.1H124.6 M114.1 289.5H124.6 M114.1 380.9H124.6 M114.1 472.3H124.6 M114.1 563.7H124.6 M114.1 655.1H124.6 M114.1 746.5H124.6 M114.1 837.9H124.6 M124.6 837.9V848.4 M293.5 837.9V848.4 M462.4 837.9V848.4 M631.2 837.9V848.4 M800.1 837.9V848.4 M969 837.9V848.4" stroke="#000" stroke-width="2.4"/>
<g font-family="DejaVu Sans, Liberation Sans, sans-serif" font-size="43.2" fill="#000">
<text x="103.4" y="32.2" text-anchor="end">16</text>
<text x="103.4" y="123.6" text-anchor="end">17</text>
<text x="103.4" y="215" text-anchor="end">18</text>
<text x="103.4" y="306.4" text-anchor="end">19</text>
<text x="103.4" y="397.8" text-anchor="end">20</text>
<text x="103.4" y="489.2" text-anchor="end">21</text>
<text x="103.4" y="580.6" text-anchor="end">22</text>
<text x="103.4" y="672" text-anchor="end">23</text>
<text x="103.4" y="763.4" text-anchor="end">24</text>
<text x="103.4" y="854.8" text-anchor="end">25</text>
<text x="124.6" y="891.4" text-anchor="middle">0.0</text>
<text x="293.5" y="891.4" text-anchor="middle">0.2</text>
<text x="462.4" y="891.4" text-anchor="middle">0.4</text>
<text x="631.2" y="891.4" text-anchor="middle">0.6</text>
<text x="800.1" y="891.4" text-anchor="middle">0.8</text>
<text x="969" y="891.4" text-anchor="middle">1.0</text>
</g>
<text x="546.8" y="947.8" font-family="DejaVu Sans, Liberation Sans, sans-serif" font-size="48" text-anchor="middle">g-r</text>
<text transform="translate(27.2 426.6) rotate(-90)" font-family="DejaVu Sans, Liberation Sans, sans-serif" font-size="48" text-anchor="middle">r</text>
</svg>
</body></html>
